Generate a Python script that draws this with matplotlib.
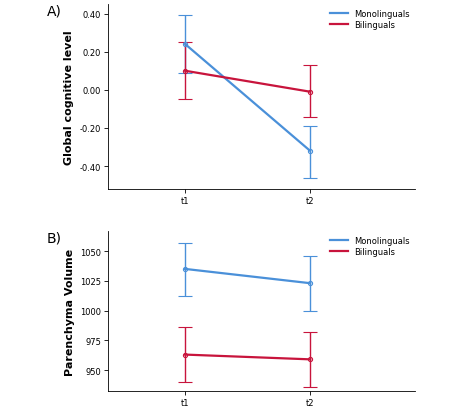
import matplotlib
matplotlib.use("Agg")
import matplotlib.pyplot as plt
from matplotlib.lines import Line2D

times = ["t1", "t2"]

# Panel A: global cognitive level
cog_mono = [0.24, -0.32]
cog_mono_lo = [0.09, -0.46]
cog_mono_hi = [0.39, -0.19]
cog_bi = [0.10, -0.01]
cog_bi_lo = [-0.05, -0.14]
cog_bi_hi = [0.25, 0.13]

# Panel B: parenchyma volume
vol_mono = [1035, 1023]
vol_mono_lo = [1012, 1000]
vol_mono_hi = [1057, 1046]
vol_bi = [963, 959]
vol_bi_lo = [940, 936]
vol_bi_hi = [986, 982]

BLUE = "#4a90d9"
RED = "#c8143c"

fig = plt.figure(figsize=(4.74, 4.14), dpi=100)
axA = fig.add_axes([0.228, 0.541, 0.648, 0.447])
axB = fig.add_axes([0.228, 0.052, 0.648, 0.388])


def draw(ax, series, ylim, yticks, fmt, ylabel, tag):
    x = range(len(times))
    handles = []
    for vals, lo, hi, col, lab in series:
        yerr = [[v - l for v, l in zip(vals, lo)], [h - v for v, h in zip(vals, hi)]]
        ax.errorbar(x, vals, yerr=yerr, color=col, lw=1.6, elinewidth=1.0,
                    capsize=5, capthick=1.0, marker="o", ms=3, mfc="none",
                    mew=0.8)
        handles.append(Line2D([], [], color=col, lw=1.6, label=lab))
    ax.set_xlim(-0.616, 1.84)
    ax.set_ylim(*ylim)
    ax.set_yticks(yticks)
    ax.set_yticklabels([fmt.format(t) for t in yticks], fontsize=6)
    ax.set_xticks(list(x))
    ax.set_xticklabels(times, fontsize=6)
    ax.tick_params(length=3, width=0.6, pad=2)
    for s in ["top", "right"]:
        ax.spines[s].set_visible(False)
    for s in ["left", "bottom"]:
        ax.spines[s].set_linewidth(0.6)
    ax.set_ylabel(ylabel, fontsize=8, fontweight="bold")
    ax.legend(handles=handles, loc="upper right", frameon=False, fontsize=6,
              handlelength=2.2, borderaxespad=0.2, labelspacing=0.2)
    ax.text(-0.2, 1.0, tag, transform=ax.transAxes, fontsize=10, va="top")


draw(axA, [(cog_mono, cog_mono_lo, cog_mono_hi, BLUE, "Monolinguals"),
           (cog_bi, cog_bi_lo, cog_bi_hi, RED, "Bilinguals")],
     (-0.52, 0.45), [0.40, 0.20, 0.00, -0.20, -0.40], "{:.2f}",
     "Global cognitive level", "A)")
draw(axB, [(vol_mono, vol_mono_lo, vol_mono_hi, BLUE, "Monolinguals"),
           (vol_bi, vol_bi_lo, vol_bi_hi, RED, "Bilinguals")],
     (932, 1067), [1050, 1025, 1000, 975, 950], "{:d}",
     "Parenchyma Volume", "B)")

fig.savefig("out.png", dpi=100)
